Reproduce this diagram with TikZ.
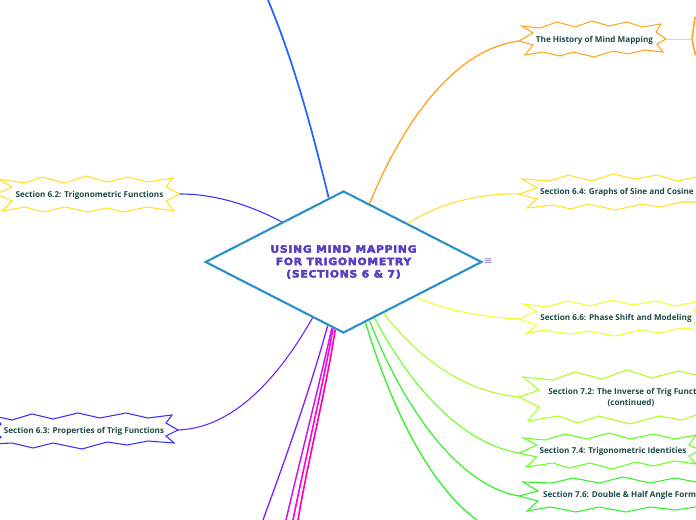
\documentclass[tikz,border=0pt]{standalone}
\usepackage{fontspec}
\usetikzlibrary{shapes.geometric}
\setmainfont{Open Sans}
\newfontfamily\titlefont[BoldFeatures={FakeBold=4.5},FakeStretch=1.08,LetterSpace=7]{DejaVu Sans}
\newfontfamily\iconfont{DejaVu Sans}
\definecolor{hubblue}{HTML}{2C90C8}
\definecolor{titleviolet}{HTML}{5A3FC0}
\definecolor{labelteal}{HTML}{1C4A44}
\definecolor{linkorange}{HTML}{FFA51F}
\definecolor{linkyellow}{HTML}{FFDF2B}
\definecolor{linkcitrus}{HTML}{EEFF2B}
\definecolor{linklime}{HTML}{AAFF22}
\definecolor{linkleaf}{HTML}{66FF22}
\definecolor{linkgreen}{HTML}{33F02B}
\definecolor{linkblue}{HTML}{1F66FF}
\definecolor{linkindigo}{HTML}{3A2EFF}
\definecolor{linkviolet}{HTML}{6A22FF}
\definecolor{linkpurple}{HTML}{8A1FFF}
\definecolor{linkmauve}{HTML}{D011F0}
\definecolor{linkmagenta}{HTML}{FF00DD}
\definecolor{linkpink}{HTML}{FF00AA}
\tikzset{
  hubnode/.style={draw=hubblue,diamond,line width=1.6pt,minimum width=207.5pt,minimum height=106.5pt,inner sep=0pt,aspect=1.95,
    align=center,text=titleviolet,font=\titlefont\bfseries\fontsize{7.5}{9.3}\selectfont},
  label/.style={text=labelteal,font=\bfseries\fontsize{6.1}{8.3}\selectfont,inner sep=0pt,align=center},
  burst/.style={line width=.8pt,line join=miter},
  link/.style={line width=.8pt}
}
\begin{document}
\begin{tikzpicture}[x=.75pt,y=-.75pt]
\useasboundingbox (0,0) rectangle (696,520);
\clip (0,0) rectangle (696,520);
% centre
\draw (343.5,262) node[hubnode](hub) {USING MIND MAPPING\\FOR TRIGONOMETRY\\(SECTIONS 6 \& 7)};
\draw (488,262) node[text=titleviolet!70,inner sep=0pt,font=\iconfont\fontsize{8}{8}\selectfont](menu) {≡};
% labels
\draw (594.5,40) node[label](history) {The History of Mind Mapping};
\draw (617,192) node[label](graphs) {Section 6.4: Graphs of Sine and Cosine};
\draw (616,318) node[label](phase) {Section 6.6: Phase Shift and Modeling};
\draw (631,397.5) node[label](inverse) {Section 7.2: The Inverse of Trig Functions\\(continued)};
\draw (613,451) node[label](identities) {Section 7.4: Trigonometric Identities};
\draw (628,495) node[label](double) {Section 7.6: Double \& Half Angle Formulas};
\draw (89.5,195) node[label](functions) {Section 6.2: Trigonometric Functions};
\draw (84,431) node[label](properties) {Section 6.3: Properties of Trig Functions};
% outlines
\draw[burst,linkorange] (522,26)--(540,28)--(557,22)--(575,27)--(592,21)--(609,26)--(627,22)--(642,27)--(661,24)--(656,32)--(666,39)--(657,44)--(663,52)--(645,50)--(628,54)--(613,51)--(594,57)--(573,52)--(560,56)--(543,52)--(525,55)--(533,45)--(519,41)--(533,33)--cycle;
\draw[burst,linkyellow] (522,179)--(550,181)--(568,175)--(592,181)--(613,174)--(635,179)--(657,175)--(677,181)--(696,177)--(710,180)--(710,200)--(696,202)--(682,202)--(660,207)--(642,204)--(616,210)--(588,204)--(571,209)--(553,205)--(527,208)--(537,199)--(519,194)--(537,188)--cycle;
\draw[burst,linkcitrus] (523,304)--(547,307)--(568,301)--(590,306)--(612,300)--(633,305)--(655,301)--(675,306)--(696,302)--(704,300)--(696,308)--(694,311)--(702,317)--(694,323)--(704,330)--(680,328)--(660,333)--(640,330)--(615,336)--(588,331)--(570,334)--(543,330)--(526,334)--(537,325)--(519,319)--(537,311)--cycle;
\draw[burst,linklime] (523,377)--(553,380)--(575,372)--(602,379)--(627,370)--(652,378)--(678,371)--(696,375)--(710,375)--(710,415)--(696,415)--(682,420)--(659,416)--(630,424)--(599,416)--(578,423)--(558,416)--(528,421)--(539,407)--(519,397)--(539,390)--cycle;
\draw[burst,linkleaf] (523,438)--(545,440)--(565,434)--(587,439)--(609,433)--(630,439)--(653,434)--(675,439)--(696,435)--(689,445)--(700,450)--(689,456)--(696,464)--(675,461)--(653,466)--(636,462)--(612,469)--(590,463)--(569,468)--(553,463)--(526,467)--(537,457)--(519,453)--(537,445)--cycle;
\draw[burst,linkgreen] (523,482)--(552,483)--(573,478)--(599,483)--(623,477)--(650,483)--(675,478)--(696,482)--(710,480)--(710,507)--(696,507)--(675,510)--(650,507)--(626,512)--(599,507)--(576,512)--(550,507)--(527,511)--(538,501)--(519,496)--(538,491)--cycle;
\draw[burst,linkyellow] (-2,179)--(25,183)--(42,177)--(65,183)--(86,176)--(107,182)--(128,177)--(148,182)--(173,178)--(166,187)--(180,194)--(166,201)--(174,211)--(147,207)--(123,212)--(107,208)--(88,212)--(65,207)--(43,212)--(25,207)--(2,211)--(12,201)--(-4,194)--(12,187)--cycle;
\draw[burst,linkindigo] (-6,416)--(12,420)--(32,414)--(53,419)--(78,413)--(100,418)--(126,413)--(148,418)--(172,415)--(166,423)--(178,430)--(166,436)--(174,443)--(148,441)--(127,445)--(107,442)--(82,449)--(53,443)--(33,448)--(12,443)--(-6,444)--(1,437)--(-6,431)--(1,424)--cycle;
\draw[linkorange,line width=1.2pt] (705,10)--(695,18)--(692,39)--(695,53)--(705,70);
% free ends
\coordinate (top) at (268,0);
\coordinate (offgreen) at (477,520);
\coordinate (offpurple) at (263,520);
\coordinate (offmauve) at (286,520);
\coordinate (offmagenta) at (293,520);
\coordinate (offpink) at (298,520);
\coordinate (historytip) at (519,41);
\coordinate (historyout) at (666,39);
\coordinate (nextbox) at (692,39);
\coordinate (graphstip) at (519,194);
\coordinate (phasetip) at (519,319);
\coordinate (inversetip) at (519,397);
\coordinate (identitiestip) at (519,453);
\coordinate (doubletip) at (519,496);
\coordinate (functionstip) at (180,194);
\coordinate (propertiestip) at (178,430);
% links
\draw[link,linkblue,line width=1.3pt] (hub.103.8) .. controls (312,130) and (295,65) .. (top);
\draw[link,linkorange,line width=1pt] (hub.66.3) .. controls (400,130) and (450,50) .. (historytip);
\draw[link,linkorange!50,line width=.7pt] (historyout) -- (nextbox);
\draw[link,linkyellow] (hub.31.6) .. controls (440,203) and (480,193) .. (graphstip);
\draw[link,linkcitrus] (hub.-26.1) .. controls (445,310) and (480,317) .. (phasetip);
\draw[link,linklime] (hub.-52.8) .. controls (420,360) and (465,392) .. (inversetip);
\draw[link,linkleaf] (hub.-61.9) .. controls (410,385) and (460,443) .. (identitiestip);
\draw[link,linkgreen,line width=.9pt] (hub.-66.6) .. controls (400,400) and (455,485) .. (doubletip);
\draw[link,linkgreen,line width=1pt] (hub.-70.3) .. controls (395,420) and (435,490) .. (offgreen);
\draw[link,linkindigo] (hub.147.4) .. controls (250,205) and (215,194) .. (functionstip);
\draw[link,linkviolet] (hub.-119.8) .. controls (280,375) and (235,428) .. (propertiestip);
\draw[link,linkpurple,line width=1pt] (hub.-104.5) .. controls (310,390) and (285,460) .. (offpurple);
\draw[link,linkmauve,line width=1.1pt] (hub.-100.9) .. controls (318,390) and (300,460) .. (offmauve);
\draw[link,linkmagenta,line width=1.2pt] (hub.-99.2) .. controls (322,390) and (305,460) .. (offmagenta);
\draw[link,linkpink,line width=1.2pt] (hub.-97.5) .. controls (326,390) and (308,460) .. (offpink);
\end{tikzpicture}
\end{document}
